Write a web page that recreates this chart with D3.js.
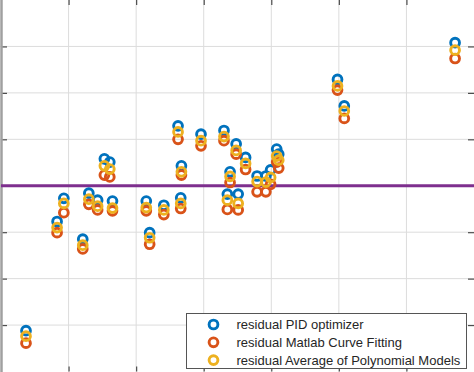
<!DOCTYPE html>
<html>
<head>
<meta charset="utf-8">
<script src="https://cdn.jsdelivr.net/npm/d3@7"></script>
<style>
  body { margin: 0; background: #fff; }
  svg { display: block; }
</style>
</head>
<body>
<svg id="chart"></svg>
<script>
const width = 474;
const height = 372;

// data (axis units, labels are cropped away)
const xVals = [0.37, 0.83, 0.93, 1.21, 1.30, 1.43, 1.53, 1.61, 1.65, 2.15, 2.20, 2.41, 2.66, 2.62,
  2.67, 2.96, 3.30, 3.48, 3.62, 3.39, 3.35, 3.51, 3.79, 3.92, 3.99, 4.08, 4.11, 4.98, 5.08, 6.72];
const residPID = [-3.12, -0.77, -0.27, -1.15, -0.16, -0.31, 0.58, 0.51, -0.33, -0.33, -1.01, -0.42, -0.26, 1.29,
  0.43, 1.11, 1.19, 0.90, 0.61, 0.30, -0.18, -0.18, 0.21, 0.21, 0.34, 0.79, 0.68, 2.29, 1.72, 3.08];
const residMatlab = [-3.39, -1.01, -0.58, -1.36, -0.40, -0.52, 0.23, 0.19, -0.54, -0.54, -1.26, -0.62, -0.49, 1.00,
  0.23, 0.86, 0.97, 0.68, 0.35, 0.07, -0.51, -0.52, -0.13, -0.13, 0.03, 0.51, 0.38, 2.06, 1.45, 2.74];
const residAvg = [-3.24, -0.90, -0.38, -1.28, -0.29, -0.44, 0.43, 0.36, -0.48, -0.47, -1.12, -0.52, -0.38, 1.16,
  0.30, 0.97, 1.06, 0.76, 0.48, 0.20, -0.31, -0.38, 0.09, 0.08, 0.18, 0.64, 0.55, 2.15, 1.61, 2.92];

const xTicks = [1, 2, 3, 4, 5, 6];
const yTicks = [-3, -2, -1, 0, 1, 2, 3];
const seriesNames = ["residual PID optimizer", "residual Matlab Curve Fitting", "residual Average of Polynomial Models"];
const seriesColors = ["#0072BD", "#D95319", "#EDB120"];
const seriesData = [residPID, residMatlab, residAvg];

const svg = d3.select("#chart").attr("width", width).attr("height", height);

const x = d3.scaleLinear().domain([0, 7]).range([1, 474]);
const y = d3.scaleLinear().domain([-4, 4]).range([371.5, 0]);

// grid
svg.append("g")
  .selectAll("line.gx")
  .data(xTicks)
  .join("line")
  .attr("x1", (d) => x(d)).attr("x2", (d) => x(d))
  .attr("y1", 0).attr("y2", height)
  .attr("stroke", "#dcdcdc").attr("stroke-width", 1);

svg.append("g")
  .selectAll("line.gy")
  .data(yTicks)
  .join("line")
  .attr("y1", (d) => y(d)).attr("y2", (d) => y(d))
  .attr("x1", 0).attr("x2", width)
  .attr("stroke", "#dcdcdc").attr("stroke-width", 1);

// axes (ticks only, labels are outside the crop)
const tickStyle = (g) => {
  g.select(".domain").remove();
  g.selectAll(".tick line").attr("stroke", "#4d4d4d").attr("stroke-width", 1.2);
  g.selectAll(".tick text").remove();
};

svg.append("g").attr("transform", `translate(0,${y(4)})`)
  .call(d3.axisBottom(x).tickValues(xTicks).tickSize(5)).call(tickStyle);
svg.append("g").attr("transform", `translate(0,${y(-4)})`)
  .call(d3.axisTop(x).tickValues(xTicks).tickSize(5)).call(tickStyle);
svg.append("g").attr("transform", `translate(${x(0) + 1},0)`)
  .call(d3.axisRight(y).tickValues(yTicks).tickSize(5)).call(tickStyle);
svg.append("g").attr("transform", `translate(${x(7)},0)`)
  .call(d3.axisLeft(y).tickValues(yTicks).tickSize(6)).call(tickStyle);

// left box edge
svg.append("line")
  .attr("x1", x(0) + 0.5).attr("x2", x(0) + 0.5)
  .attr("y1", 0).attr("y2", height)
  .attr("stroke", "#a0a0a0").attr("stroke-width", 2.5);

// zero line
svg.append("line")
  .attr("x1", x(0)).attr("x2", x(7))
  .attr("y1", y(0)).attr("y2", y(0))
  .attr("stroke", "#7E2F8E").attr("stroke-width", 3);

// markers
seriesData.forEach((vals, s) => {
  svg.append("g")
    .selectAll("circle")
    .data(vals)
    .join("circle")
    .attr("cx", (d, i) => x(xVals[i]))
    .attr("cy", (d) => y(d))
    .attr("r", 4.4)
    .attr("fill", "none")
    .attr("stroke", seriesColors[s])
    .attr("stroke-width", 2.9);
});

// legend
const legend = svg.append("g");
legend.append("rect")
  .attr("x", 186.5).attr("y", 313.5)
  .attr("width", 280).attr("height", 55)
  .attr("fill", "#fff")
  .attr("stroke", "#555").attr("stroke-width", 1);

const items = legend.selectAll("g.item")
  .data(seriesNames)
  .join("g")
  .attr("transform", (d, i) => `translate(0,${324.5 + i * 17.8})`);

items.append("circle")
  .attr("cx", 213.5).attr("cy", 0)
  .attr("r", 4.4)
  .attr("fill", "none")
  .attr("stroke", (d, i) => seriesColors[i])
  .attr("stroke-width", 2.9);

items.append("text")
  .attr("x", 236.5).attr("y", 0)
  .attr("dy", "0.36em")
  .style("font", "13px 'Liberation Sans', Arial, sans-serif")
  .attr("fill", "#262626")
  .text((d) => d);
</script>
</body>
</html>
